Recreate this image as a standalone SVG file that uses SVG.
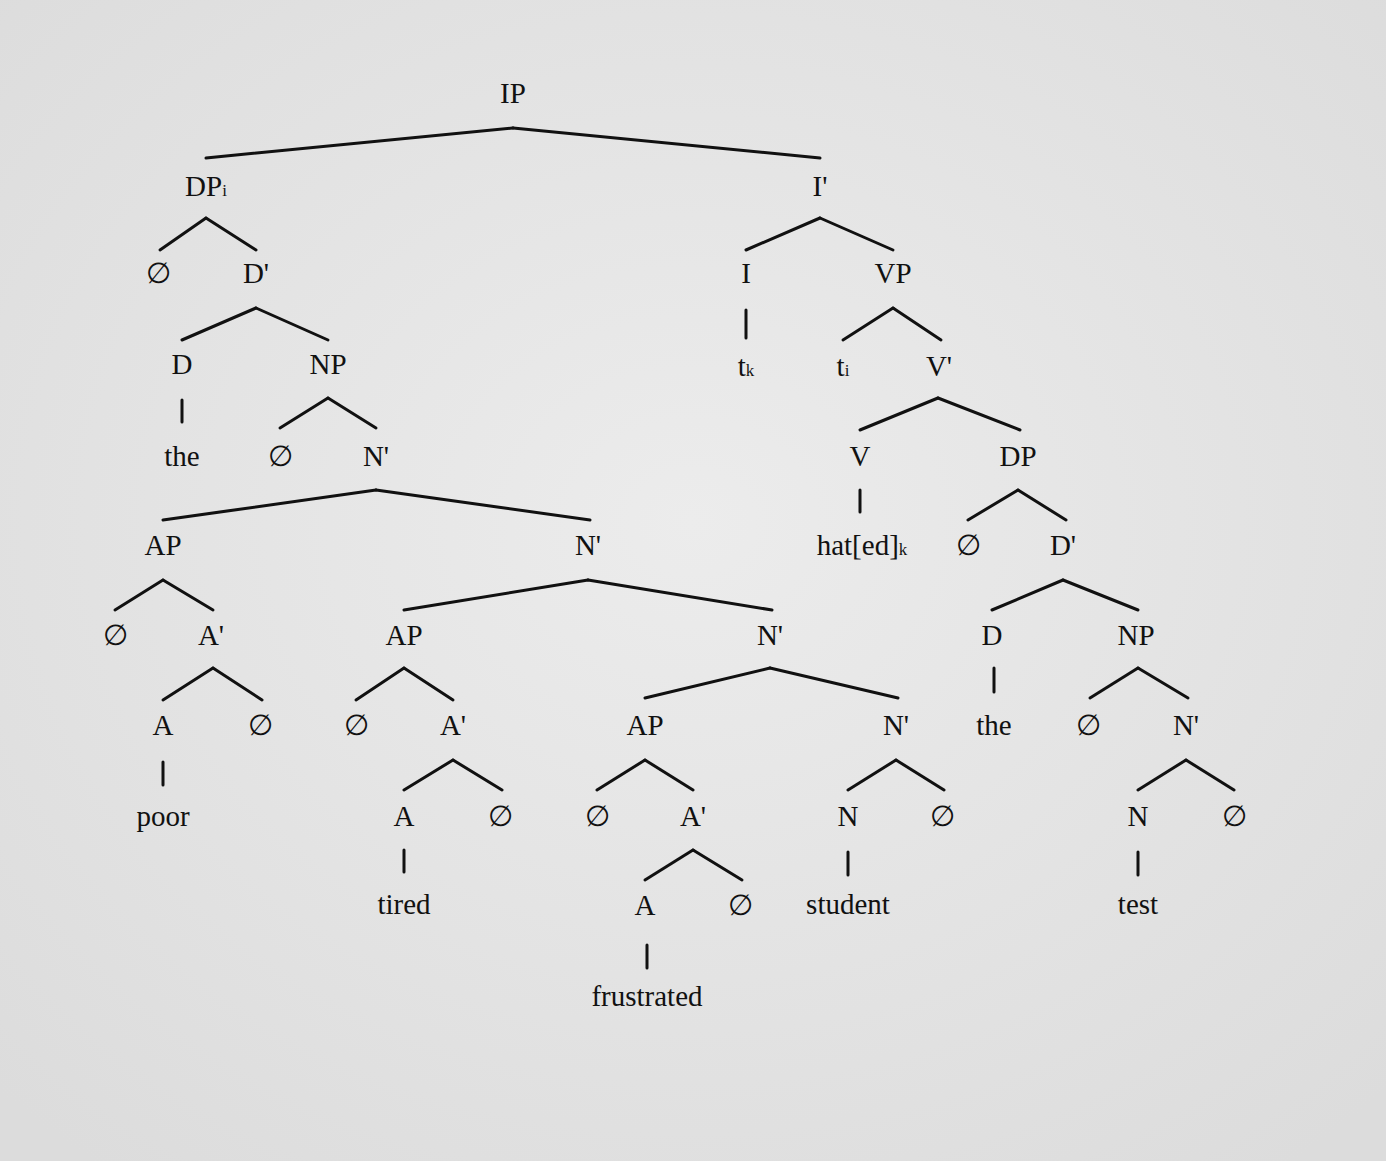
<svg xmlns="http://www.w3.org/2000/svg" width="1386" height="1161" viewBox="0 0 1386 1161">
<defs>
<radialGradient id="bg" cx="0.5" cy="0.45" r="0.7">
<stop offset="0" stop-color="#ececec"/><stop offset="1" stop-color="#dcdcdc"/>
</radialGradient>
<style>
text{font-family:"Liberation Serif","DejaVu Serif",serif;font-size:29px;fill:#111;text-anchor:middle}
.s{font-size:17px}
line{stroke:#111;stroke-width:3;stroke-linecap:round}
</style>
</defs>
<rect width="1386" height="1161" fill="url(#bg)"/>
<g id="connectors">
<line x1="513" y1="128" x2="206" y2="158"/><line x1="513" y1="128" x2="820" y2="158"/>
<line x1="206" y1="218" x2="160" y2="250"/><line x1="206" y1="218" x2="256" y2="250"/>
<line x1="256" y1="308" x2="182" y2="340"/><line x1="256" y1="308" x2="328" y2="340"/>
<line x1="182" y1="400" x2="182" y2="422"/>
<line x1="328" y1="398" x2="280" y2="428"/><line x1="328" y1="398" x2="376" y2="428"/>
<line x1="376" y1="490" x2="163" y2="520"/><line x1="376" y1="490" x2="590" y2="520"/>
<line x1="163" y1="580" x2="115" y2="610"/><line x1="163" y1="580" x2="213" y2="610"/>
<line x1="213" y1="668" x2="163" y2="700"/><line x1="213" y1="668" x2="262" y2="700"/>
<line x1="163" y1="762" x2="163" y2="785"/>
<line x1="588" y1="580" x2="404" y2="610"/><line x1="588" y1="580" x2="772" y2="610"/>
<line x1="404" y1="668" x2="356" y2="700"/><line x1="404" y1="668" x2="453" y2="700"/>
<line x1="453" y1="760" x2="404" y2="790"/><line x1="453" y1="760" x2="502" y2="790"/>
<line x1="404" y1="850" x2="404" y2="872"/>
<line x1="770" y1="668" x2="645" y2="698"/><line x1="770" y1="668" x2="898" y2="698"/>
<line x1="645" y1="760" x2="597" y2="790"/><line x1="645" y1="760" x2="693" y2="790"/>
<line x1="693" y1="850" x2="645" y2="880"/><line x1="693" y1="850" x2="742" y2="880"/>
<line x1="647" y1="945" x2="647" y2="968"/>
<line x1="896" y1="760" x2="848" y2="790"/><line x1="896" y1="760" x2="944" y2="790"/>
<line x1="848" y1="852" x2="848" y2="875"/>
<line x1="820" y1="218" x2="746" y2="250"/><line x1="820" y1="218" x2="893" y2="250"/>
<line x1="746" y1="310" x2="746" y2="338"/>
<line x1="893" y1="308" x2="843" y2="340"/><line x1="893" y1="308" x2="941" y2="340"/>
<line x1="938" y1="398" x2="860" y2="430"/><line x1="938" y1="398" x2="1020" y2="430"/>
<line x1="860" y1="490" x2="860" y2="512"/>
<line x1="1018" y1="490" x2="968" y2="520"/><line x1="1018" y1="490" x2="1066" y2="520"/>
<line x1="1063" y1="580" x2="992" y2="610"/><line x1="1063" y1="580" x2="1138" y2="610"/>
<line x1="994" y1="668" x2="994" y2="692"/>
<line x1="1138" y1="668" x2="1090" y2="698"/><line x1="1138" y1="668" x2="1188" y2="698"/>
<line x1="1186" y1="760" x2="1138" y2="790"/><line x1="1186" y1="760" x2="1234" y2="790"/>
<line x1="1138" y1="852" x2="1138" y2="875"/>
</g>
<g id="n-IP"><text x="513" y="103">IP</text></g>
<g id="n-DPi"><text x="206" y="196">DP<tspan class="s">i</tspan></text></g>
<g id="n-Ibar"><text x="820" y="196">I'</text></g>
<g id="n-e1"><text x="158" y="283">∅</text></g>
<g id="n-Dbar1"><text x="256" y="283">D'</text></g>
<g id="n-D1"><text x="182" y="374">D</text></g>
<g id="n-NP1"><text x="328" y="374">NP</text></g>
<g id="n-the1"><text x="182" y="466">the</text></g>
<g id="n-e2"><text x="280" y="466">∅</text></g>
<g id="n-Nbar1"><text x="376" y="466">N'</text></g>
<g id="n-AP1"><text x="163" y="555">AP</text></g>
<g id="n-Nbar2"><text x="588" y="555">N'</text></g>
<g id="n-e3"><text x="115" y="645">∅</text></g>
<g id="n-Abar1"><text x="211" y="645">A'</text></g>
<g id="n-A1"><text x="163" y="735">A</text></g>
<g id="n-e4"><text x="260" y="735">∅</text></g>
<g id="n-poor"><text x="163" y="826">poor</text></g>
<g id="n-AP2"><text x="404" y="645">AP</text></g>
<g id="n-Nbar3"><text x="770" y="645">N'</text></g>
<g id="n-e5"><text x="356" y="735">∅</text></g>
<g id="n-Abar2"><text x="453" y="735">A'</text></g>
<g id="n-A2"><text x="404" y="826">A</text></g>
<g id="n-e6"><text x="500" y="826">∅</text></g>
<g id="n-tired"><text x="404" y="914">tired</text></g>
<g id="n-AP3"><text x="645" y="735">AP</text></g>
<g id="n-Nbar4"><text x="896" y="735">N'</text></g>
<g id="n-e7"><text x="597" y="826">∅</text></g>
<g id="n-Abar3"><text x="693" y="826">A'</text></g>
<g id="n-A3"><text x="645" y="915">A</text></g>
<g id="n-e8"><text x="740" y="915">∅</text></g>
<g id="n-frustrated"><text x="647" y="1006">frustrated</text></g>
<g id="n-N1"><text x="848" y="826">N</text></g>
<g id="n-e9"><text x="942" y="826">∅</text></g>
<g id="n-student"><text x="848" y="914">student</text></g>
<g id="n-I"><text x="746" y="283">I</text></g>
<g id="n-VP"><text x="893" y="283">VP</text></g>
<g id="n-tk"><text x="746" y="376">t<tspan class="s">k</tspan></text></g>
<g id="n-ti"><text x="843" y="376">t<tspan class="s">i</tspan></text></g>
<g id="n-Vbar"><text x="939" y="376">V'</text></g>
<g id="n-V"><text x="860" y="466">V</text></g>
<g id="n-DP2"><text x="1018" y="466">DP</text></g>
<g id="n-hated"><text x="862" y="555">hat[ed]<tspan class="s">k</tspan></text></g>
<g id="n-e10"><text x="968" y="555">∅</text></g>
<g id="n-Dbar2"><text x="1063" y="555">D'</text></g>
<g id="n-D2"><text x="992" y="645">D</text></g>
<g id="n-NP2"><text x="1136" y="645">NP</text></g>
<g id="n-the2"><text x="994" y="735">the</text></g>
<g id="n-e11"><text x="1088" y="735">∅</text></g>
<g id="n-Nbar5"><text x="1186" y="735">N'</text></g>
<g id="n-N2"><text x="1138" y="826">N</text></g>
<g id="n-e12"><text x="1234" y="826">∅</text></g>
<g id="n-test"><text x="1138" y="914">test</text></g>
</svg>
